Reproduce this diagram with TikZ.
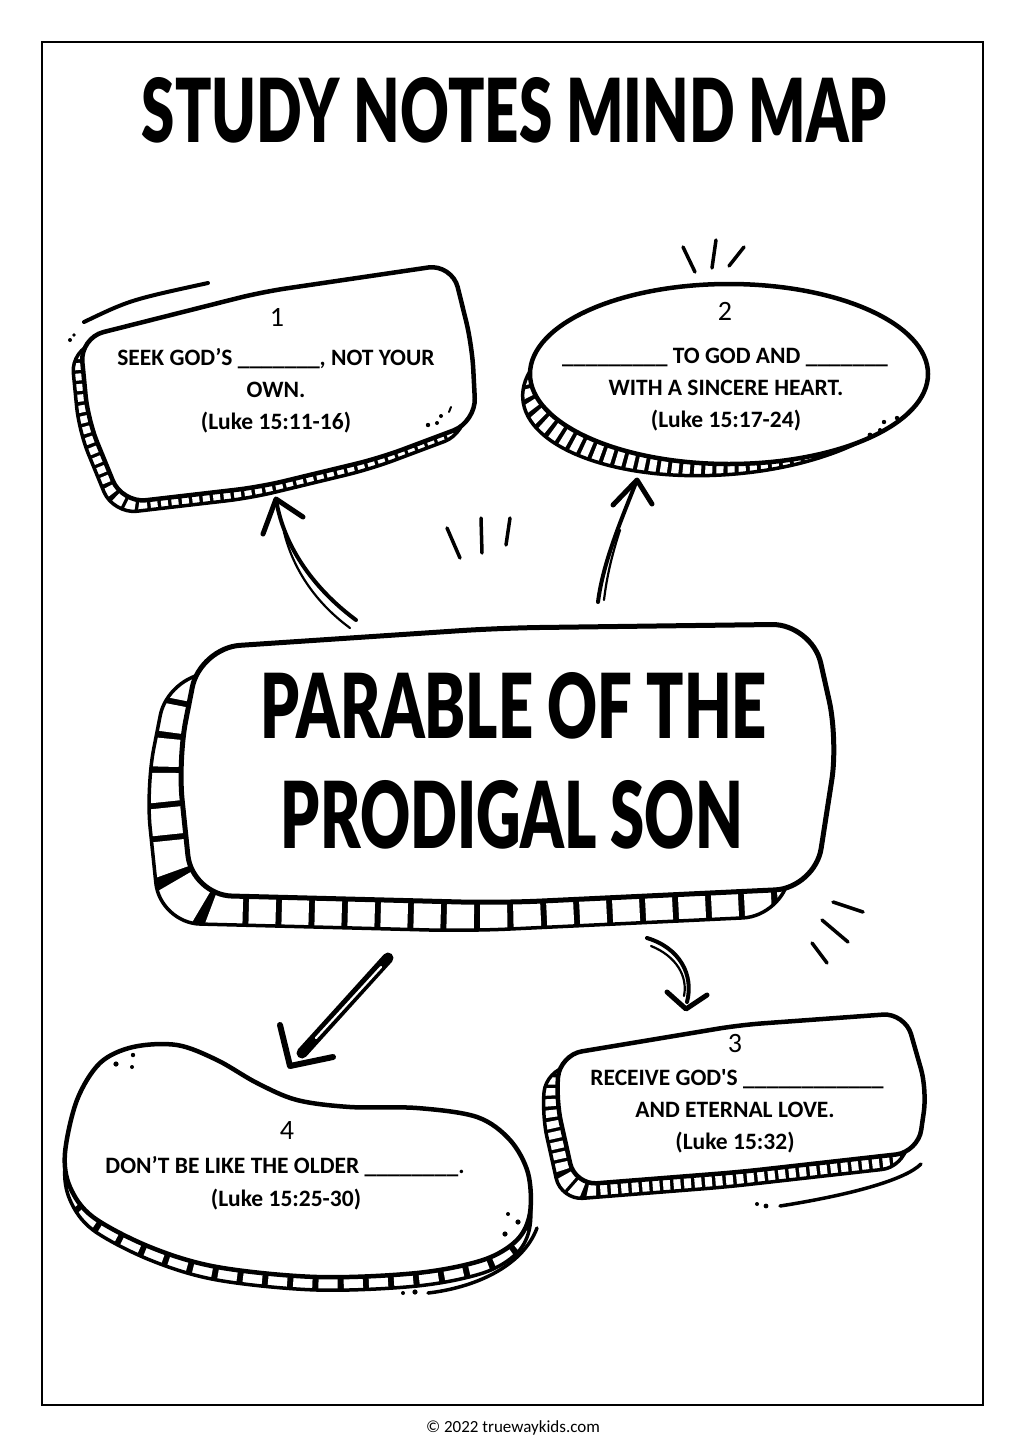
\documentclass[tikz,border=0pt]{standalone}
\usepackage{fontspec}
\usepackage{graphicx}
\newfontfamily\bodyfont{Carlito}[Ligatures=TeXOff]
\IfFontExistsTF{Fira Sans Heavy}{\newfontfamily\titlefont{Fira Sans Heavy}}{%
  \IfFontExistsTF{Lato Black}{\newfontfamily\titlefont{Lato Black}}{%
    \newfontfamily\titlefont{Liberation Sans Bold}}}
% #1 main path, #2 band path, #3 band transform, #4 dash, #5 outline width, #6 path style
\newcommand{\ladder}[6]{%
  \fill[black, #6, #3] #2;
  \begin{scope}
    \clip[#6, #3] #2;
    \draw[white, line width=100pt, line cap=butt, dash pattern=#4, #6] #1;
  \end{scope}
  \draw[black, line width=3.5pt, #6, #3] #2;
  \draw[black, fill=white, line width=#5, #6] #1;
}
\def\bonepath{(80,338) -- (262,292) -- (452,264) -- (472,345) -- (476,422) -- (380,458) -- (260,487) -- (122,503) -- (88,420) -- cycle}
\def\cpath{(200,648) -- (500,628) -- (812,624) -- (838,740) -- (815,888) -- (500,903) -- (192,895) -- (178,760) -- cycle}
\def\bthreepath{(560,1055) -- (740,1025) -- (905,1013) -- (927,1090) -- (918,1152) -- (740,1172) -- (575,1185) -- (556,1100) -- cycle}
\def\bfourpath{plot[smooth cycle, tension=0.55] coordinates {(65,1153) (77,1100) (100,1063) (133,1047) (177,1045) (217,1060) (257,1083) (297,1100) (350,1107) (417,1108) (477,1117) (510,1140) (528,1173) (530,1213) (517,1240) (483,1260) (417,1273) (317,1277) (217,1267) (150,1247) (93,1217) (70,1187)}}
\tikzset{
  boxtxt/.style={anchor=base, inner sep=0pt, font=\bodyfont\bfseries\fontsize{23.5}{28}\selectfont},
  numtxt/.style={anchor=base, inner sep=0pt, font=\bodyfont\fontsize{28}{32}\selectfont},
  arr/.style={line width=4pt},
  arrthin/.style={line width=2.2pt},
  arrhead/.style={line width=5pt},
  spark/.style={line width=3.5pt},
  speck/.style={fill=black}
}
\begin{document}
\begin{tikzpicture}[x=1pt,y=-1pt, line cap=round, line join=round]
\useasboundingbox (0,0) rectangle (1024,1448);
\fill[white] (0,0) rectangle (1024,1448);
\draw[line width=2pt, line cap=butt, line join=miter] (42,42) rectangle (983,1405);

% title
\node[anchor=base, inner sep=0pt, text=black] (title) at (514.5,142) {\resizebox{745pt}{65pt}{\titlefont STUDY NOTES MIND MAP}};

% box 1
\ladder{\bonepath}{\bonepath}{shift={(-9,11)}}{on 7pt off 3.5pt}{4.5pt}{rounded corners=24pt}
\draw[line width=4pt] (84,322) .. controls (130,300) .. (208,283);
\fill[speck] (70,340) circle (2pt) (74,335) circle (1.8pt);
\fill[speck] (428,425) circle (2.2pt) (437,423) circle (2pt) (441,416) circle (2pt);
\draw[line width=2pt] (449,412) -- (451,407);

% box 2
\ladder{(729,374) ellipse [x radius=199pt, y radius=90pt]}{(729,374) ellipse [x radius=199pt, y radius=90pt]}{rotate around={4:(850,448)}, shift={(-3,2)}}{on 7pt off 4pt}{4.5pt}{}
\fill[speck] (870,435) circle (2.4pt) (880,430) circle (2pt) (884,422) circle (2.2pt) (897,418) circle (2.2pt);
\draw[spark] (683,247) -- (695,272);
\draw[spark] (716,240) -- (712,268);
\draw[spark] (744,247) -- (729,266);

% central box
\ladder{\cpath}{\cpath}{shift={(-32,28)}}{on 27pt off 6pt}{5pt}{rounded corners=40pt}
\node[anchor=base, inner sep=0pt, text=black] (ctr1) at (514,738) {\resizebox{506pt}{66pt}{\titlefont PARABLE OF THE}};
\node[anchor=base, inner sep=0pt, text=black] (ctr2) at (512,848) {\resizebox{462pt}{68pt}{\titlefont PRODIGAL SON}};
\draw[spark] (447,528) -- (460,558);
\draw[spark] (481,518) -- (482,553);
\draw[spark] (510,518) -- (506,545);
\draw[spark] (833,902) -- (863,912);
\draw[spark] (822,920) -- (848,942);
\draw[spark] (812,943) -- (827,963);

% box 3
\ladder{\bthreepath}{\bthreepath}{shift={(-14,15)}}{on 7pt off 3.5pt}{4.5pt}{rounded corners=22pt}
\draw[line width=3.5pt] (780,1206) .. controls (850,1195) and (905,1180) .. (921,1164);
\fill[speck] (757,1204) circle (2pt) (766,1206) circle (2.4pt);

% box 4
\ladder{\bfourpath}{\bfourpath}{shift={(0,13)}}{on 19pt off 6pt}{4.5pt}{}
\draw[line width=3.5pt] (537,1228) .. controls (522,1268) and (472,1288) .. (428,1293);
\fill[speck] (116,1064) circle (2.6pt) (133,1055) circle (2.2pt) (132,1067) circle (2pt);
\fill[speck] (508,1214) circle (2pt) (518,1222) circle (2.6pt) (505,1234) circle (2.6pt);
\fill[speck] (403,1293) circle (2pt) (415,1292) circle (2.6pt);

% connectors
\coordinate (a1s) at (356,620);
\coordinate (a1e) at (276,499);
\coordinate (a2s) at (598,602);
\coordinate (a2e) at (637,480);
\coordinate (a3s) at (647,938);
\coordinate (a3e) at (686,1009);
\coordinate (a4s) at (388,958);
\coordinate (a4e) at (290,1066);

\draw[arr] (a1s) .. controls (318,592) and (284,550) .. (a1e);
\draw[arrthin] (350,628) .. controls (312,600) and (292,565) .. (284,532);
\draw[arrhead] (263,534) -- (a1e) -- (303,517);

\draw[arr] (a2s) .. controls (603,562) and (622,518) .. (a2e);
\draw[arrthin] (604,600) .. controls (607,575) and (612,555) .. (620,530);
\draw[arrhead] (613,505) -- (a2e) -- (652,504);

\draw[arr] (a3s) .. controls (680,948) and (694,975) .. (687,1002);
\draw[arrthin] (651,946) .. controls (676,956) and (688,976) .. (684,996);
\draw[arrhead] (667,992) -- (a3e) -- (707,995);

\draw[line width=11pt] (a4s) -- (302,1053);
\draw[white, line width=2.2pt] (381,967) -- (316,1038);
\draw[line width=6pt] (280,1025) -- (a4e) -- (333,1057);

% texts box 1
\node[numtxt] (n1) at (277,326) {1};
\node[boxtxt] (t1a) at (276,365) {SEEK GOD’S \_\_\_\_\_\_\_, NOT YOUR};
\node[boxtxt] (t1b) at (276,397) {OWN.};
\node[boxtxt] (t1c) at (276,429) {(Luke 15:11-16)};
% texts box 2
\node[numtxt] (n2) at (725,320) {2};
\node[boxtxt] (t2a) at (725,363) {\_\_\_\_\_\_\_\_\_ TO GOD AND \_\_\_\_\_\_\_};
\node[boxtxt] (t2b) at (726,395) {WITH A SINCERE HEART.};
\node[boxtxt] (t2c) at (726,427) {(Luke 15:17-24)};
% texts box 3
\node[numtxt] (n3) at (735,1052) {3};
\node[boxtxt] (t3a) at (737,1085) {RECEIVE GOD'S \_\_\_\_\_\_\_\_\_\_\_\_};
\node[boxtxt] (t3b) at (735,1117) {AND ETERNAL LOVE.};
\node[boxtxt] (t3c) at (735,1149) {(Luke 15:32)};
% texts box 4
\node[numtxt] (n4) at (287,1139) {4};
\node[boxtxt] (t4a) at (285,1173) {DON’T BE LIKE THE OLDER \_\_\_\_\_\_\_\_.};
\node[boxtxt] (t4b) at (286,1206) {(Luke 15:25-30)};

% footer
\node[anchor=base, inner sep=0pt, font=\bodyfont\fontsize{17}{20}\selectfont] (copy) at (513,1432) {© 2022 truewaykids.com};
\end{tikzpicture}
\end{document}
